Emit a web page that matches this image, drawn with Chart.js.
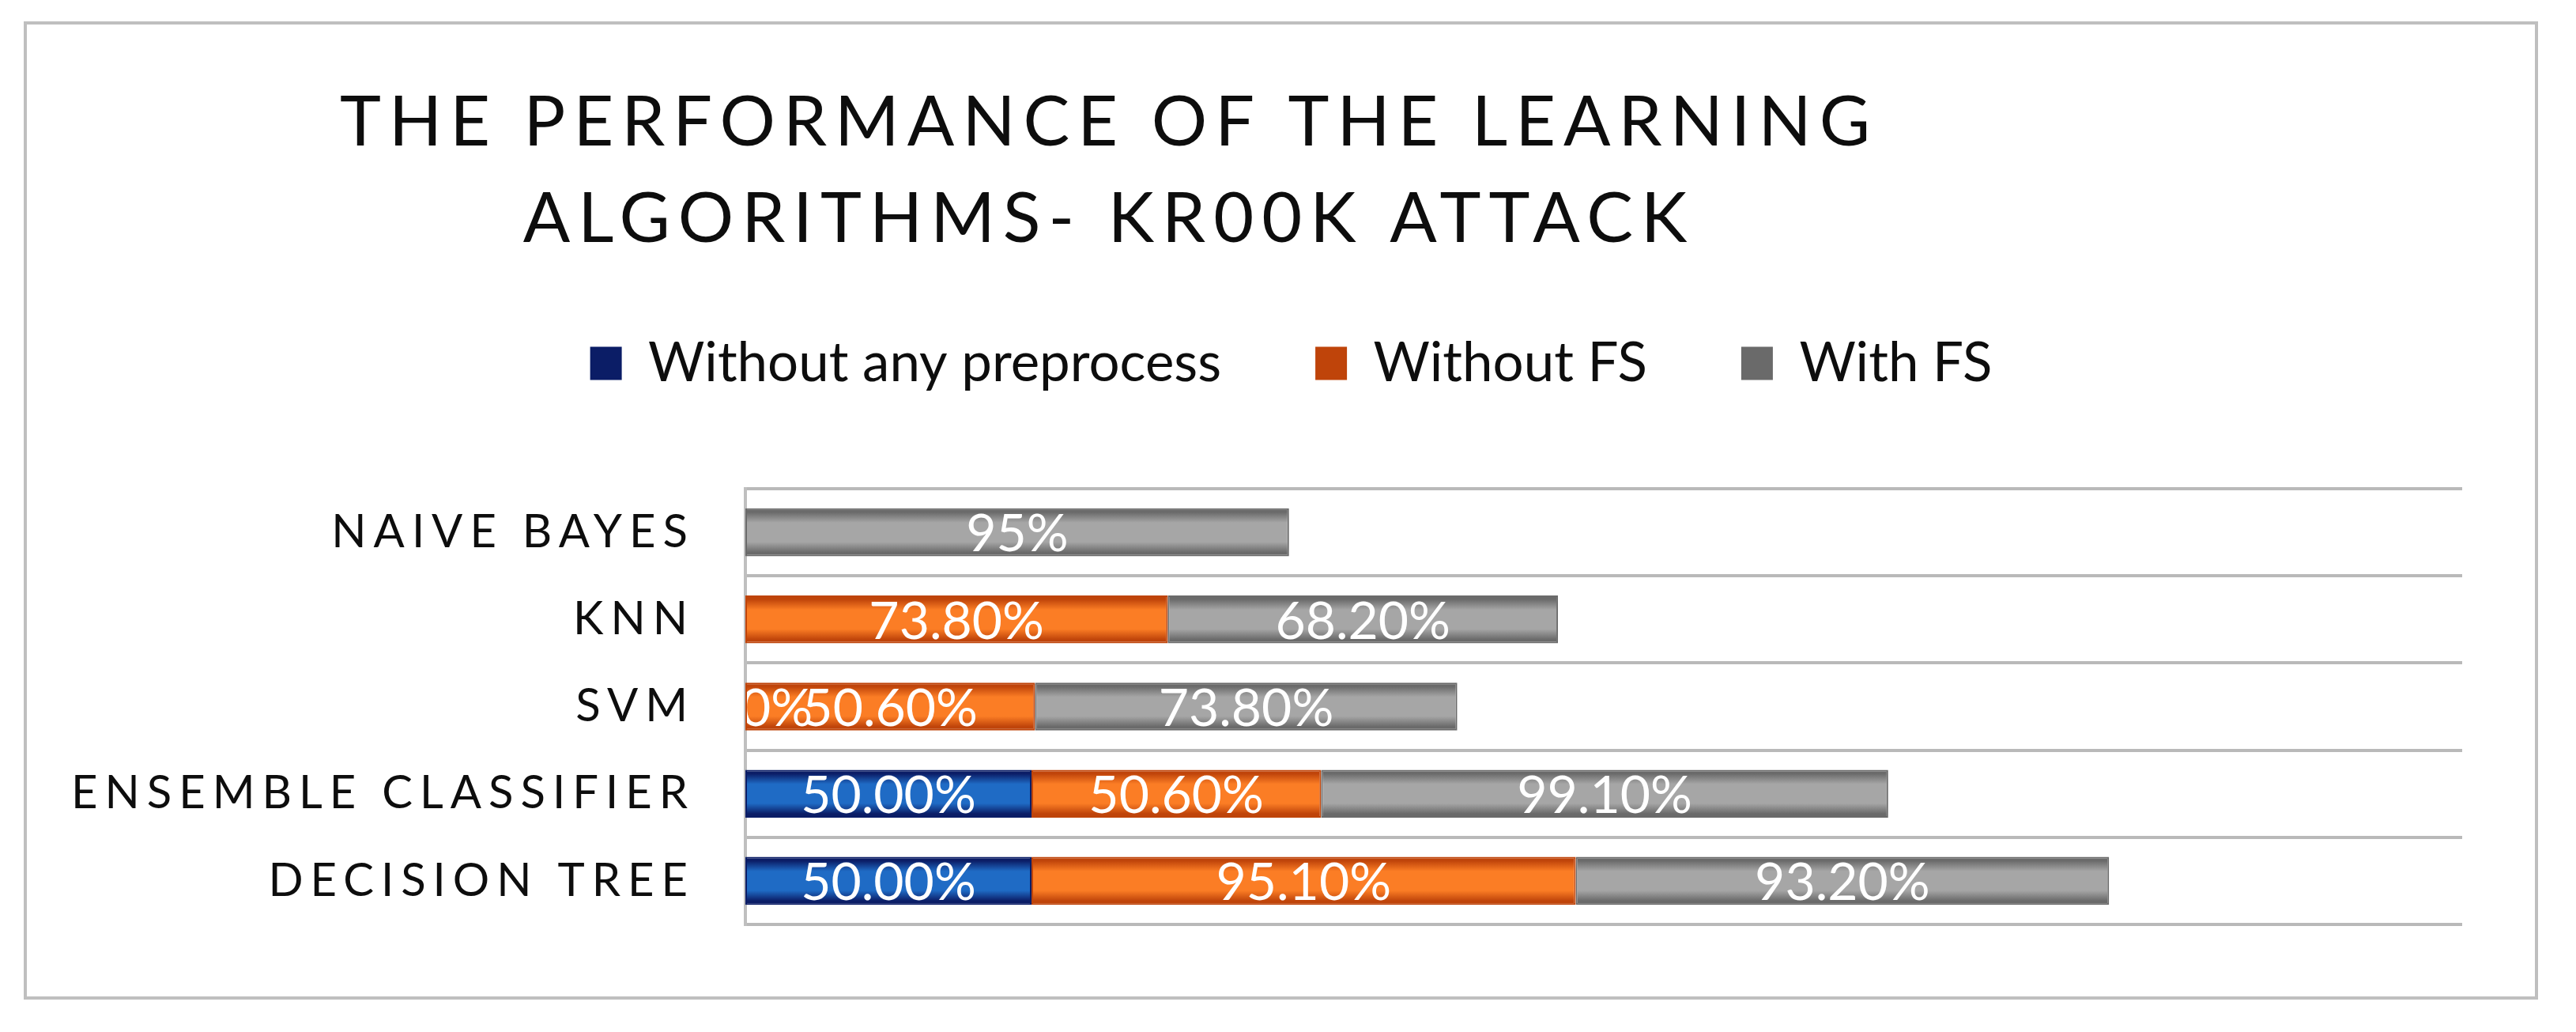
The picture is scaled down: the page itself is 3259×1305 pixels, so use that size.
<!DOCTYPE html>
<html>
<head>
<meta charset="utf-8">
<title>Kr00k attack - learning algorithms</title>
<script src="https://cdn.jsdelivr.net/npm/chart.js@4.4.1/dist/chart.umd.min.js"></script>
<style>
    html, body { margin: 0; padding: 0; background: #fff; overflow: hidden; }
    #wrap { position: relative; width: 3259px; height: 1305px; }
</style>
</head>
<body>
<div id="wrap"><canvas id="chart"></canvas></div>
<script>
// Data
const titleLines = ["THE PERFORMANCE OF THE LEARNING", "ALGORITHMS- KR00K ATTACK"];
const categories = ["NAIVE BAYES", "KNN", "SVM", "ENSEMBLE CLASSIFIER", "DECISION TREE"];
const seriesNames = ["Without any preprocess", "Without FS", "With FS"];

const noPreprocess = [null, null, 0, 50, 50];
const withoutFS = [null, 73.8, 50.6, 50.6, 95.1];
const withFS = [95, 68.2, 73.8, 99.1, 93.2];

// labels exactly as printed on the bars
const noPreprocessLabels = ["", "", "0%", "50.00%", "50.00%"];
const withoutFSLabels = ["", "73.80%", "50.60%", "50.60%", "95.10%"];
const withFSLabels = ["95%", "68.20%", "73.80%", "99.10%", "93.20%"];

const axisMax = 300;

const FONT = "Lato, 'Open Sans', sans-serif";
const barLabels = [noPreprocessLabels, withoutFSLabels, withFSLabels];

// [edge, middle] shades for the bevelled bars
const blueShade = ["#0b1d66", "#1f6bc5"];
const orangeShade = ["#bf440a", "#fb7d25"];
const grayShade = ["#6a6a6a", "#a6a6a6"];

function shaded(c) {
    return (ctx) => {
        const chart = ctx.chart;
        const y = chart.scales && chart.scales.y;
        if (!chart.chartArea || !y || ctx.dataIndex === undefined) return c[1];
        const yc = y.getPixelForValue(ctx.dataIndex);
        const half = (y.height / categories.length) * 0.55 / 2;
        const g = chart.ctx.createLinearGradient(0, yc - half, 0, yc + half);
        g.addColorStop(0, c[0]);
        g.addColorStop(0.08, c[0]);
        g.addColorStop(0.3, c[1]);
        g.addColorStop(0.7, c[1]);
        g.addColorStop(0.92, c[0]);
        g.addColorStop(1, c[0]);
        return g;
    };
}

// frame, bar values, letter spaced title
const decorations = {
    id: "decorations",
    beforeDraw(chart) {
        const ctx = chart.ctx;
        ctx.letterSpacing = "0px";
        ctx.save();
        ctx.fillStyle = "#fff";
        ctx.fillRect(0, 0, chart.width, chart.height);
        ctx.strokeStyle = "#bfbfbf";
        ctx.lineWidth = 4;
        ctx.strokeRect(32, 29, 3177, 1233);
        ctx.restore();
    },
    afterDatasetsDraw(chart) {
        const { ctx, chartArea } = chart;
        ctx.save();
        ctx.beginPath();
        ctx.rect(chartArea.left + 2, chartArea.top, chartArea.right - chartArea.left, chartArea.bottom - chartArea.top);
        ctx.clip();
        ctx.font = "66px " + FONT;
        ctx.fillStyle = "#fff";
        ctx.textAlign = "center";
        ctx.textBaseline = "middle";
        chart.data.datasets.forEach((ds, i) => {
            chart.getDatasetMeta(i).data.forEach((bar, j) => {
                const text = barLabels[i][j];
                if (!text || ds.data[j] === null) return;
                const w = ctx.measureText(text).width;
                const x = Math.max((bar.x + bar.base) / 2, chartArea.left + w / 2 - 6);
                ctx.fillText(text, x, bar.y + 3);
            });
        });
        ctx.restore();
        // category labels (ticks z:1) are drawn next, spaced out
        ctx.letterSpacing = "9px";
    },
    afterDraw(chart) {
        const ctx = chart.ctx;
        ctx.save();
        ctx.letterSpacing = "10px";
        ctx.font = "88px " + FONT;
        ctx.fillStyle = "#0d0d0d";
        ctx.textAlign = "center";
        ctx.textBaseline = "alphabetic";
        ctx.fillText(titleLines[0], 1403, 184);
        ctx.fillText(titleLines[1], 1403, 306);
        ctx.restore();
        ctx.letterSpacing = "0px";
    }
};

const datasets = [noPreprocess, withoutFS, withFS].map((values, i) => {
    const shade = [blueShade, orangeShade, grayShade][i];
    return {
        label: seriesNames[i],
        data: values,
        xAxisID: "x",
        yAxisID: "y",
        backgroundColor: shaded(shade),
        borderColor: shade[0],
        borderWidth: 2,
        borderSkipped: false,
        categoryPercentage: 1,
        barPercentage: 0.55
    };
});

new Chart(document.getElementById("chart"), {
    type: "bar",
    data: { labels: categories, datasets: datasets },
    plugins: [decorations],
    options: {
        indexAxis: "y",
        responsive: true,
        maintainAspectRatio: false,
        animation: false,
        events: [],
        layout: { padding: { top: 305, left: 32, right: 23, bottom: 136 } },
        plugins: {
            title: { display: false },
            tooltip: { enabled: false },
            legend: {
                position: "top",
                labels: {
                    font: { family: FONT, size: 69 },
                    color: "#0d0d0d",
                    boxWidth: 38,
                    boxHeight: 40,
                    padding: 120
                }
            }
        },
        scales: {
            x: {
                type: "linear",
                position: "top",
                stacked: true,
                min: 0,
                max: axisMax,
                grid: { display: false },
                border: { display: false },
                ticks: { display: false },
                afterFit: (s) => { s.height = 114; }
            },
            y: {
                stacked: true,
                grid: { color: "#b9b9b9", lineWidth: 4, offset: true, drawTicks: false },
                border: { display: true, color: "#bfbfbf", width: 4 },
                ticks: {
                    z: 1,
                    padding: 64,
                    color: "#0d0d0d",
                    font: { family: FONT, size: 58 }
                },
                afterFit: (s) => { s.width = 911; }
            },
            // empty right hand axis, only keeps the legend centred like the original
            spacer: {
                type: "linear",
                position: "right",
                grid: { display: false },
                border: { display: false },
                ticks: { display: false },
                afterFit: (s) => { s.width = 121; }
            }
        }
    }
});
</script>
</body>
</html>
